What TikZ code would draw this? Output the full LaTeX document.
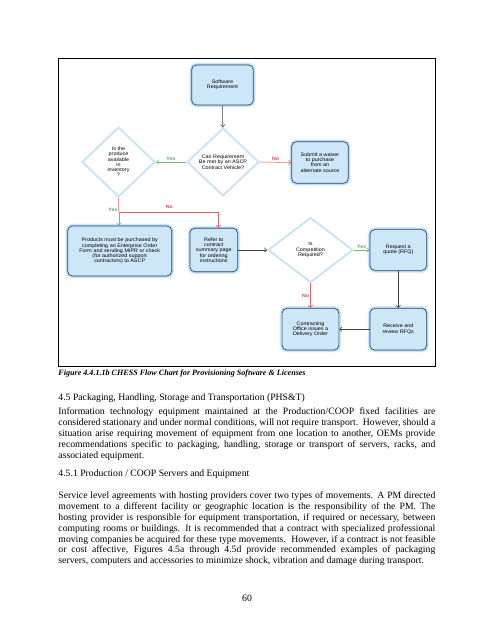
\documentclass[tikz,border=0pt]{standalone}
\usepackage{fontspec}
\setmainfont{Liberation Serif}
\newfontfamily\dfont[FakeStretch=1.08]{Liberation Sans}
\usetikzlibrary{shapes.geometric,arrows.meta}
\definecolor{boxfill}{HTML}{CDE6F8}
\definecolor{boxline}{HTML}{2E4868}
\definecolor{glow}{HTML}{AFD5F2}
\definecolor{glowb}{HTML}{DCEEFA}
\definecolor{dialine}{HTML}{C8E3F4}
\definecolor{yesc}{HTML}{6CBF6C}
\definecolor{noc}{HTML}{E5606C}
\definecolor{darkc}{HTML}{404040}
\newcommand{\jl}[1]{\hbox to 466pt{#1}}
\tikzset{
 flowbox/.style={rectangle, rounded corners=6pt, fill=boxfill, draw=boxline, line width=0.8pt,
   preaction={draw=glowb, line width=6pt}, preaction={draw=glow, line width=3.5pt}, align=center,
   font=\dfont\fontsize{6.2}{6.5}\selectfont, inner sep=1pt},
 decision/.style={diamond, draw=dialine, line width=2.3pt, fill=white, align=center,
   font=\dfont\fontsize{6.2}{6.5}\selectfont, inner sep=0pt},
 darrow/.style={draw=darkc, line width=0.65pt, -{Straight Barb[length=3pt,width=5.5pt]}},
 yarrow/.style={darrow, draw=yesc},
 narrow/.style={darrow, draw=noc},
 ylab/.style={text=yesc!85!black, font=\dfont\fontsize{6}{6.5}\selectfont\bfseries, inner sep=1.5pt},
 nlab/.style={text=noc!85!black, font=\dfont\fontsize{6}{6.5}\selectfont\bfseries, inner sep=1.5pt},
 body/.style={anchor=base west, inner sep=0pt, font=\fontsize{12}{13.45}\selectfont},
}
\begin{document}
\begin{tikzpicture}[x=1.2364pt, y=-1.2364pt]
\useasboundingbox (0,0) rectangle (495,640);
% frame
\draw[line width=1.1pt] (58.3,58.3) rectangle (435,366.7);
% nodes
\node[flowbox, minimum width=76.2pt, minimum height=49.5pt] (sw) at (222.5,85) {Software\\Requirement};
\node[decision, minimum width=89pt, minimum height=84pt] (q1) at (223,162) {Can Requirement\\Be met by an ASCP\\Contract Vehicle?};
\node[decision, minimum width=90.3pt, minimum height=86.5pt] (inv) at (118.5,162) {Is the\\produce\\available\\in\\inventory\\?};
\node[flowbox, minimum width=70pt, minimum height=51.4pt] (waiver) at (320,162.5) {Submit a waiver\\to purchase\\from an\\alternate source};
\node[flowbox, minimum width=128.6pt, minimum height=61.8pt] (prod) at (119.7,251) {Products must be purchased by\\completing an Enterprise Order\\Form and sending MIPR or check\\(for authorized support\\contractors) to ASCP};
\node[flowbox, minimum width=59pt, minimum height=53.7pt] (refer) at (213.8,250) {Refer to\\contract\\summary page\\for ordering\\instructions};
\node[decision, minimum width=105pt, minimum height=80.4pt] (comp) at (310.5,250) {Is\\Competition\\Required?};
\node[flowbox, minimum width=70.1pt, minimum height=50.3pt] (rfq) at (398.3,250) {Request a\\quote (RFQ)};
\node[flowbox, minimum width=70.1pt, minimum height=51.6pt] (recv) at (398.3,329.2) {Receive and\\review RFQs};
\node[flowbox, minimum width=70.1pt, minimum height=51.6pt] (contr) at (310.5,329.2) {Contracting\\Office issues a\\Delivery Order};
% connectors
\draw[darrow] (sw) -- (q1);
\draw[yarrow] (q1.west) -- (inv.east) node[ylab, midway, above] (ly1) {Yes};
\draw[narrow] (q1.east) -- (waiver.west) node[nlab, midway, above] (ln1) {No};
\coordinate (j) at (118.8,212.7);
\draw[noc, line width=0.65pt] (inv.south) -- (j);
\draw[yarrow] (j) -- (j |- prod.north);
\node[ylab, anchor=south east] (ly2) at (j) {Yes};
\draw[narrow] (j) -| ([xshift=5.6pt]refer.north);
\node[nlab] (ln2) at (169.3,206.5) {No};
\draw[darrow] (refer.east) -- (comp.west);
\draw[yarrow] (comp.east) -- (rfq.west) node[ylab, midway, above] (ly3) {Yes};
\draw[narrow] (comp.south) -- (contr.north) node[nlab, midway, left] (ln3) {No};
\draw[darrow] (rfq.south) -- (recv.north);
\draw[darrow] (recv.west) -- (contr.east);
% caption and text
\node[anchor=base west, inner sep=0pt, font=\fontsize{10}{12}\selectfont\bfseries\itshape] (cap) at (58.3,375.5) {Figure 4.4.1.1b CHESS Flow Chart for Provisioning Software \& Licenses};
\node[body] (h1) at (58.3,400.5) {4.5 Packaging, Handling, Storage and Transportation (PHS\&T)};
\node[body] (p1) at (58.3,414.5) {\vtop{\baselineskip=13.45pt
\jl{Information technology equipment maintained at the Production/COOP fixed facilities are}
\jl{considered stationary and under normal conditions, will not require transport.\ \ However, should a}
\jl{situation arise requiring movement of equipment from one location to another, OEMs provide}
\jl{recommendations specific to packaging, handling, storage or transport of servers, racks, and}
\hbox{associated equipment.}}};
\node[body] (h2) at (58.3,476.8) {4.5.1 Production / COOP Servers and Equipment};
\node[body] (p2) at (58.3,498.5) {\vtop{\baselineskip=13.45pt
\jl{Service level agreements with hosting providers cover two types of movements. A PM directed}
\jl{movement to a different facility or geographic location is the responsibility of the PM. The}
\jl{hosting provider is responsible for equipment transportation, if required or necessary, between}
\jl{computing rooms or buildings. It is recommended that a contract with specialized professional}
\jl{moving companies be acquired for these type movements.\ \ However, if a contract is not feasible}
\jl{or cost affective, Figures 4.5a through 4.5d provide recommended examples of packaging}
\hbox{servers, computers and accessories to minimize shock, vibration and damage during transport.}}};
\node[anchor=base, inner sep=0pt, font=\fontsize{12}{14}\selectfont] (pg) at (247,601) {60};
\end{tikzpicture}
\end{document}
